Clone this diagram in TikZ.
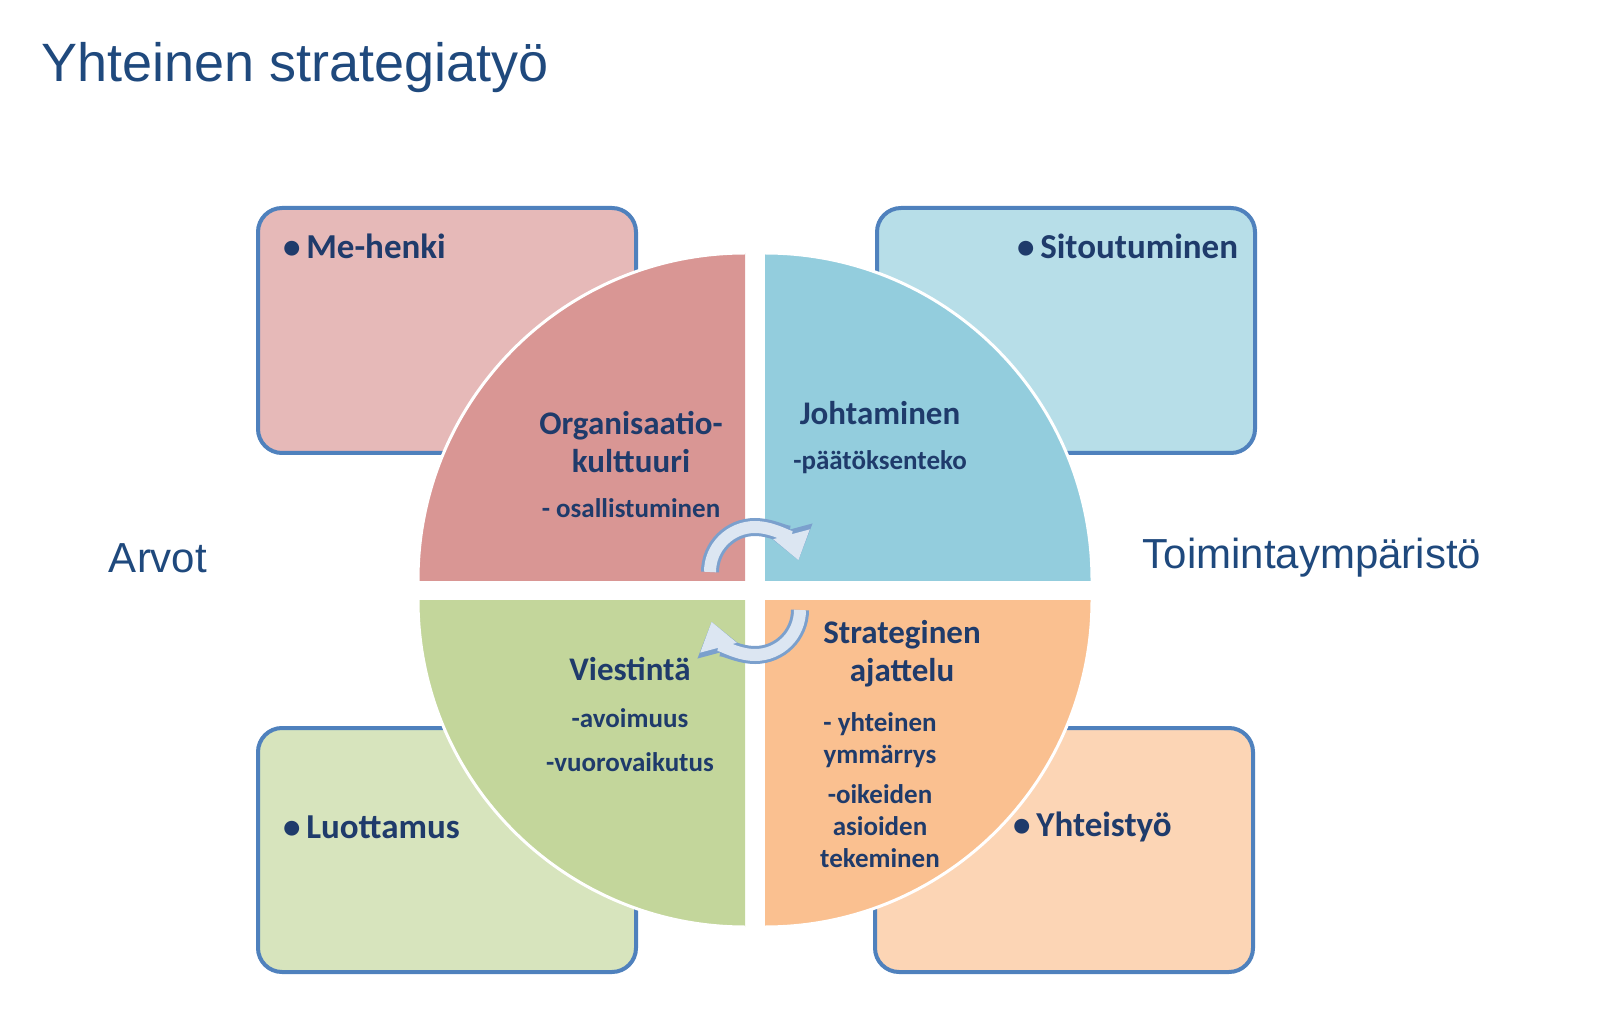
\documentclass[tikz,border=0pt]{standalone}
\usepackage{fontspec}
\setmainfont{Carlito}
\newfontfamily\arialf{Liberation Sans}
\usetikzlibrary{arrows.meta}
\definecolor{txt}{HTML}{1F3B6B}
\definecolor{ttl}{HTML}{1F497D}
\definecolor{bord}{HTML}{4F81BD}
\definecolor{b1c}{RGB}{230,185,184}
\definecolor{b2c}{RGB}{183,222,232}
\definecolor{b3c}{RGB}{215,228,189}
\definecolor{b4c}{RGB}{252,213,181}
\definecolor{q1c}{RGB}{217,150,148}
\definecolor{q2c}{RGB}{147,205,221}
\definecolor{q3c}{RGB}{195,214,155}
\definecolor{q4c}{RGB}{250,192,144}
\tikzset{
 box/.style={draw=bord,line width=2pt,rounded corners=12pt},
 btxt/.style={text=txt,font=\bfseries\fontsize{17.5}{20}\selectfont,anchor=west},
 ctxt/.style={text=txt,font=\bfseries\fontsize{16.5}{19}\selectfont,align=center},
 stxt/.style={text=txt,font=\bfseries\fontsize{13.5}{16}\selectfont,align=center},
 side/.style={text=ttl,font=\arialf\fontsize{21}{25}\selectfont},
 cycout/.style={draw=bord!75,line width=9pt,-{Triangle[length=16pt,width=22pt]}},
 cycin/.style={draw=bord!20,line width=6pt,-{Triangle[length=13.5pt,width=18pt]}}
}
\begin{document}
\begin{tikzpicture}[x=0.5pt,y=-0.5pt]
\useasboundingbox (0,0) rectangle (1600,1031);
\node[anchor=west,text=ttl,font=\arialf\fontsize{27}{32}\selectfont] (title) at (34,68) {Yhteinen strategiatyö};
% boxes
\draw[box,fill=b1c] (258,208) rectangle (636,453);
\draw[box,fill=b2c] (877,208) rectangle (1255,453);
\draw[box,fill=b3c] (258,728) rectangle (636,972);
\draw[box,fill=b4c] (875,728) rectangle (1253,972);
% quadrants
\begin{scope}\clip (745,580) rectangle (400,240);
\fill[q1c,draw=white,line width=1.5pt] (745,580) circle[radius=327];\end{scope}
\begin{scope}\clip (765,580) rectangle (1110,240);
\fill[q2c,draw=white,line width=1.5pt] (765,580) circle[radius=327];\end{scope}
\begin{scope}\clip (745,600) rectangle (400,940);
\fill[q3c,draw=white,line width=1.5pt] (745,600) circle[radius=327];\end{scope}
\begin{scope}\clip (765,600) rectangle (1110,940);
\fill[q4c,draw=white,line width=1.5pt] (765,600) circle[radius=327];\end{scope}
% box texts
\node[btxt] (b1) at (276,246) {\textbullet\,Me-henki};
\node[btxt] (b2) at (1010,246) {\textbullet\,Sitoutuminen};
\node[btxt] (b3) at (276,827) {\textbullet\,Luottamus};
\node[btxt] (b4) at (1006,827) {\textbullet\,Yhteistyö};
% side labels
\node[side] (arvot) at (158,558) {Arvot};
\node[side] (toim) at (1312,558) {Toimintaympäristö};
% quadrant texts
\node[ctxt] (q1) at (631,442) {Organisaatio-\\kulttuuri};
\node[stxt] (q1s) at (631,508) {- osallistuminen};
\node[ctxt] (q2) at (880,413) {Johtaminen};
\node[stxt] (q2s) at (880,462) {-päätöksenteko};
\node[ctxt] (q3) at (630,669) {Viestintä};
\node[stxt] (q3s) at (630,740) {-avoimuus\\[6pt]-vuorovaikutus};
\node[ctxt] (q4) at (902,654) {Strateginen\\ajattelu};
\node[stxt] (q4s) at (880,790) {- yhteinen\\ymmärrys\\[4pt]-oikeiden\\asioiden\\tekeminen};
% cycle arrows
\coordinate (ta) at (710,572);
\coordinate (ba) at (800,610);
\draw[cycout] (ta) arc[start angle=180,end angle=345,radius=45];
\draw[cycin] (ta) arc[start angle=180,end angle=345,radius=45];
\draw[cycout] (ba) arc[start angle=0,end angle=165,radius=45];
\draw[cycin] (ba) arc[start angle=0,end angle=165,radius=45];
\end{tikzpicture}
\end{document}
